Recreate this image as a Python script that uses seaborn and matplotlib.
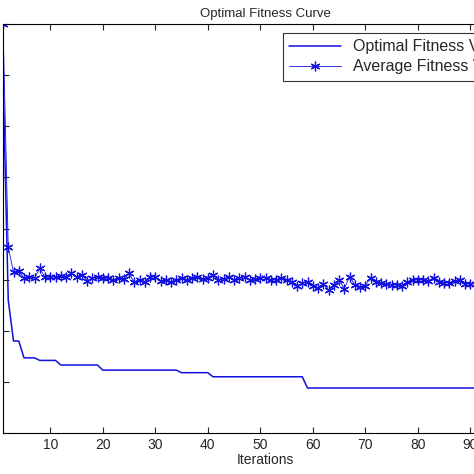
import matplotlib
matplotlib.use("Agg")
import matplotlib.pyplot as plt
import seaborn as sns
import numpy as np
import pandas as pd

sns.set_style("white")
plt.rcParams['font.family'] = ['Liberation Sans', 'DejaVu Sans']

iterations = list(range(1, 101))
optimal_levels = [(1, 7.0), (2, 2.6), (3, 1.8), (5, 1.47), (8, 1.42), (12, 1.33),
                  (20, 1.23), (35, 1.18), (41, 1.10), (59, 0.88)]
optimal = []
for it in iterations:
    val = None
    for start, v in optimal_levels:
        if it >= start:
            val = v
    optimal.append(val)

average = [8.0, 3.63, 3.15, 3.17, 3.03, 3.05, 3.03, 3.22, 3.05, 3.05,
           3.05, 3.08, 3.06, 3.12, 3.06, 3.10, 2.98, 3.03, 3.05, 3.03,
           3.03, 3.00, 3.03, 3.01, 3.12, 2.95, 3.00, 2.95, 3.06, 3.05,
           2.97, 2.99, 2.96, 3.00, 3.03, 3.00, 3.04, 3.06, 3.01, 3.04,
           3.10, 3.00, 3.01, 3.06, 3.00, 3.04, 3.06, 3.00, 3.02, 3.03,
           3.04, 2.99, 3.00, 3.03, 3.00, 2.96, 2.88, 2.93, 2.96, 2.88,
           2.84, 2.92, 2.80, 2.90, 3.00, 2.82, 3.06, 2.90, 2.85, 2.88,
           3.04, 2.96, 2.93, 2.92, 2.90, 2.90, 2.88, 2.96, 2.99, 3.00,
           3.00, 2.98, 3.03, 2.96, 2.94, 2.94, 2.97, 3.00, 2.92, 2.92,
           2.92, 2.95, 2.95, 2.95, 2.95, 2.95, 2.95, 2.95, 2.95, 2.95]

df = pd.DataFrame({"it": iterations, "opt": optimal, "avg": average})

fig = plt.figure(figsize=(4.74, 4.74), dpi=100)
ax = fig.add_axes([3/474, 41/474, 525/474, 409/474])
blue = "#1010e0"
sns.lineplot(data=df, x="it", y="opt", ax=ax, color=blue, lw=1.1, label="Optimal Fitness Value", legend=False)
sns.lineplot(data=df, x="it", y="avg", ax=ax, color=blue, lw=0.6, marker=(6, 2, 0),
             markersize=7, markeredgewidth=0.9, markeredgecolor=blue, label="Average Fitness Value", legend=False)
ax.set_xlim(1, 101)
ax.set_ylim(0, 8)
ax.set_xticks(range(10, 101, 10))
ax.set_yticks(range(0, 9))
ax.set_yticklabels([])
ax.tick_params(direction="in", length=4, labelsize=10, top=True, right=True, bottom=True, left=True)
for s in ax.spines.values():
    s.set_color("black"); s.set_linewidth(0.8); s.set_visible(True)
ax.set_xlabel("Iterations", fontsize=10, labelpad=1)
ax.set_ylabel("")
ax.set_title("Optimal Fitness Curve", fontsize=9.5, pad=5)
h, l = ax.get_legend_handles_labels()
leg = fig.legend(h, l, loc="upper left", bbox_to_anchor=(283/474, 1-33/474), fontsize=11.5,
                 frameon=True, fancybox=False, edgecolor="black", borderaxespad=0,
                 handlelength=3.2, labelspacing=0.3)
leg.get_frame().set_linewidth(0.8)
fig.savefig("out.png", dpi=100)
